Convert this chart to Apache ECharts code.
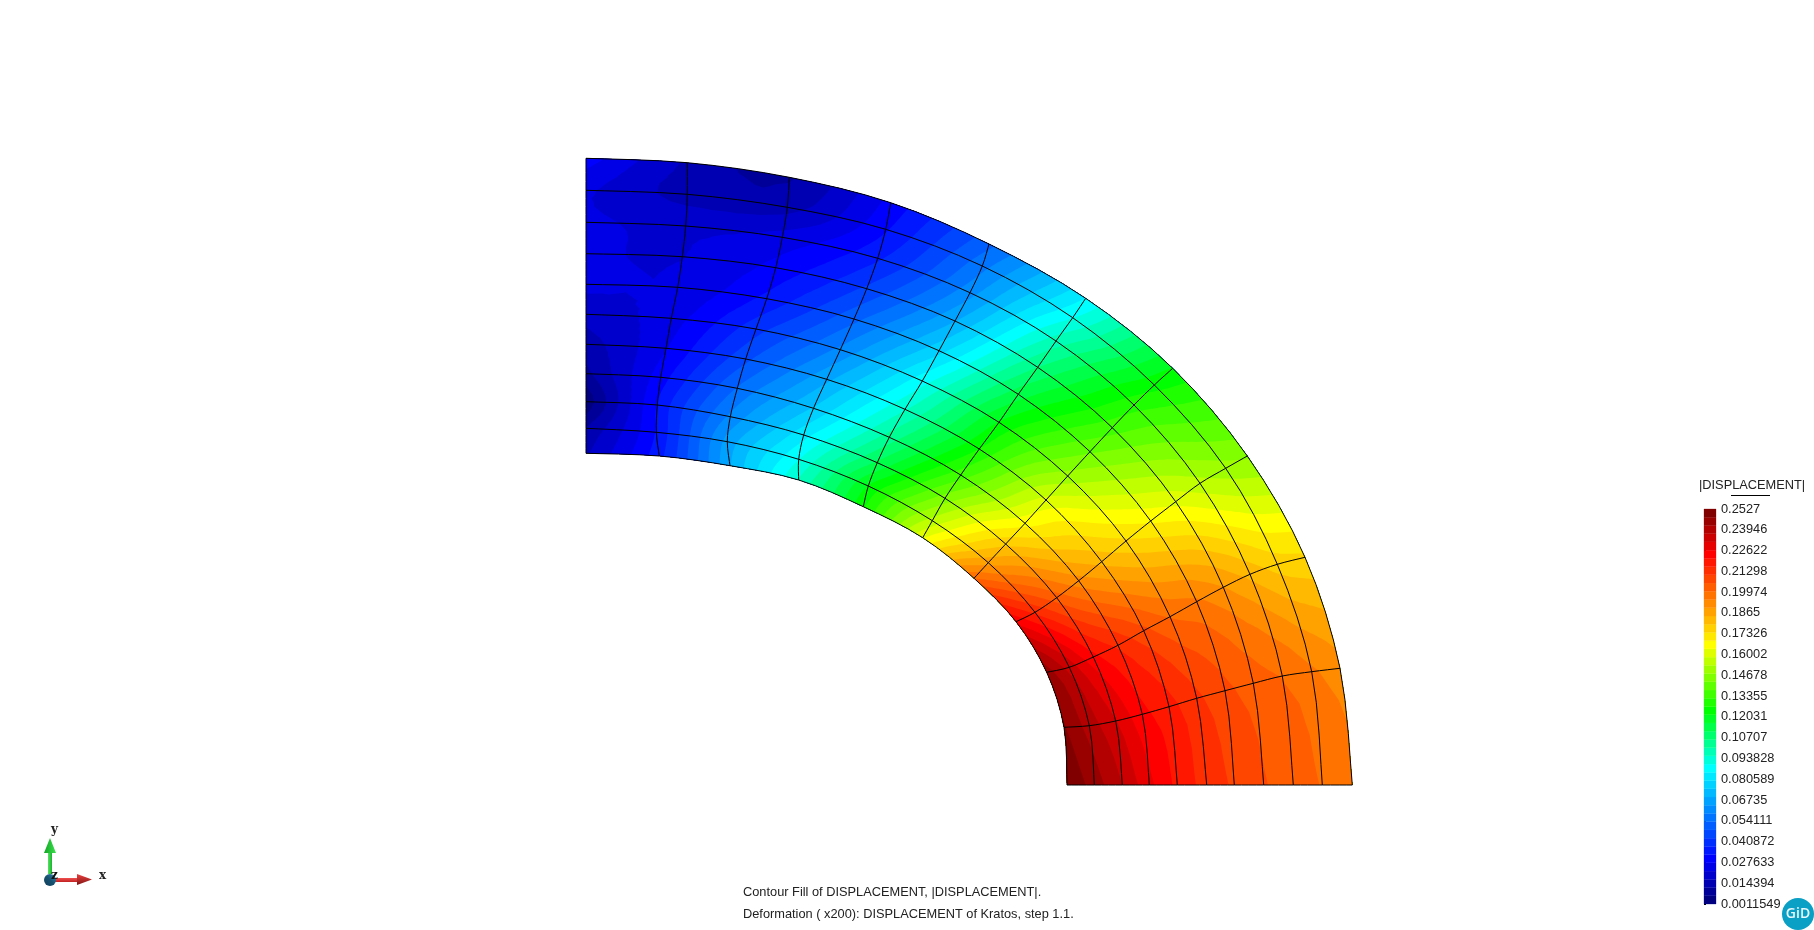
<!DOCTYPE html>
<html>
<head>
<meta charset="utf-8">
<title>Contour Fill of DISPLACEMENT</title>
<style>
    html, body { margin: 0; padding: 0; background: #fff; }
    #main { width: 1814px; height: 930px; }
</style>
<script src="https://cdn.jsdelivr.net/npm/echarts@6/dist/echarts.min.js"></script>
</head>
<body>
<div id="main"></div>
<script>
// mesh nodes, one row per spoke (top edge to bottom edge), each row outer ring to inner ring
var spokeX = [
    [586, 586, 586, 586, 586, 586, 586, 586, 586, 586, 586],
    [687.3, 687.3, 685.7, 682.3, 677.7, 671.3, 666, 660.7, 657.3, 656.3, 659.3],
    [789.3, 787.3, 782.3, 775.7, 766.7, 756, 745.7, 737.3, 730.3, 727.3, 730],
    [890.7, 885.7, 877.7, 866.7, 854, 840.3, 826.7, 813.5, 803.7, 798.7, 798.7],
    [989, 982.3, 970, 955, 939, 922.3, 905, 889.3, 877.3, 868.3, 863.3],
    [1085.7, 1072.7, 1056, 1037.7, 1018.3, 999, 979.3, 960.7, 945, 932.3, 922.7],
    [1172.7, 1154.3, 1134, 1112.3, 1090, 1067.7, 1046, 1025, 1005.7, 988.3, 974],
    [1247.3, 1225.7, 1200, 1175.7, 1150.7, 1126, 1101.7, 1078.7, 1056.7, 1035, 1016],
    [1305, 1277.3, 1250, 1223.3, 1196.7, 1170, 1143.7, 1118, 1093.3, 1069.3, 1046.7],
    [1340, 1311.7, 1282.3, 1253.3, 1225, 1196.7, 1169, 1142.3, 1115.7, 1089.3, 1064],
    [1352.3, 1322.3, 1293.3, 1263.7, 1234.3, 1206.7, 1177.3, 1149.3, 1122.3, 1094.3, 1067]
];
var spokeY = [
    [158.3, 190.3, 222.3, 253.7, 284.3, 314.3, 344.3, 373.7, 401.7, 428.3, 453.3],
    [162.7, 194.3, 226, 256.7, 287.3, 318.3, 348.3, 377.3, 405, 432.3, 456],
    [177.3, 207.3, 237.3, 267.7, 298.7, 329, 359, 388.3, 416.7, 441.7, 465.7],
    [202.7, 229.3, 258.3, 288.7, 319, 349.7, 379.3, 408.3, 435, 459.3, 480],
    [244, 266, 292.7, 321, 350.7, 381, 409.3, 437.3, 462.7, 486, 506.7],
    [298.3, 317.7, 341, 367.3, 394.3, 422.3, 449, 475, 498.3, 520.7, 537.7],
    [368.3, 385, 405, 427.7, 451.7, 476, 500, 523.3, 544, 562.7, 578.3],
    [456, 468.3, 483.3, 501.7, 521, 541, 561.7, 580.7, 597.7, 612.3, 621.7],
    [557.3, 564.3, 574.3, 587.3, 601.7, 616.7, 630.7, 645.3, 657, 667.3, 672.3],
    [668.3, 671.7, 676, 683.3, 690.7, 698.3, 706.7, 714.3, 721, 725.7, 727.3],
    [785, 785, 785, 785, 785, 785, 785, 785, 785, 785, 785]
];
// |DISPLACEMENT| at the nodes
var nodeValue = [
    [0.030, 0.023, 0.023, 0.023, 0.023, 0.019, 0.014, 0.010, 0.003, 0.012, 0.016],
    [0.016, 0.015, 0.021, 0.022, 0.023, 0.025, 0.027, 0.030, 0.033, 0.033, 0.036],
    [0.011, 0.015, 0.024, 0.029, 0.034, 0.041, 0.047, 0.054, 0.060, 0.066, 0.069],
    [0.029, 0.032, 0.037, 0.044, 0.052, 0.060, 0.068, 0.075, 0.083, 0.090, 0.096],
    [0.052, 0.057, 0.062, 0.069, 0.078, 0.088, 0.095, 0.103, 0.112, 0.122, 0.126],
    [0.085, 0.090, 0.098, 0.106, 0.114, 0.122, 0.127, 0.135, 0.145, 0.155, 0.163],
    [0.122, 0.125, 0.130, 0.135, 0.142, 0.150, 0.160, 0.167, 0.178, 0.188, 0.200],
    [0.147, 0.150, 0.155, 0.162, 0.168, 0.175, 0.183, 0.192, 0.203, 0.215, 0.225],
    [0.175, 0.177, 0.183, 0.190, 0.196, 0.200, 0.207, 0.215, 0.223, 0.235, 0.245],
    [0.192, 0.196, 0.200, 0.203, 0.207, 0.212, 0.218, 0.223, 0.232, 0.240, 0.248],
    [0.197, 0.200, 0.203, 0.206, 0.210, 0.214, 0.220, 0.228, 0.237, 0.245, 0.2527]
];
// legend ticks, top of the bar first
var tickValues = [0.2527, 0.23946, 0.22622, 0.21298, 0.19974, 0.1865, 0.17326, 0.16002, 0.14678, 0.13355,
    0.12031, 0.10707, 0.093828, 0.080589, 0.06735, 0.054111, 0.040872, 0.027633, 0.014394, 0.0011549];
// rainbow stops: band number and colour
var stopBands = [0, 5, 16, 23, 31, 42, 47];
var stopColors = [[0, 0, 128], [0, 0, 255], [0, 255, 255], [0, 255, 0], [255, 255, 0], [255, 0, 0], [128, 0, 0]];

var vMin = 0.0011549;
var vMax = 0.2527;
var SUB = 4; // drawn cells per mesh element
var BAND_COUNT = 48;

var bandColors = [];
var bandEdges = [];
for (var b = 0; b < BAND_COUNT; b++) {
    var k = 0;
    while (k < stopBands.length - 2 && b > stopBands[k + 1]) k++;
    var f = (b - stopBands[k]) / (stopBands[k + 1] - stopBands[k]);
    var c0 = stopColors[k], c1 = stopColors[k + 1];
    bandColors.push('rgb(' + Math.round(c0[0] + (c1[0] - c0[0]) * f) + ','
        + Math.round(c0[1] + (c1[1] - c0[1]) * f) + ','
        + Math.round(c0[2] + (c1[2] - c0[2]) * f) + ')');
}
for (var e = 0; e <= BAND_COUNT; e++) {
    bandEdges.push(vMin + (vMax - vMin) * e / BAND_COUNT);
}

// Catmull-Rom through one row of nodes
function refineRow(row) {
    var out = [];
    for (var i = 0; i < row.length - 1; i++) {
        var p0 = row[Math.max(i - 1, 0)], p1 = row[i], p2 = row[i + 1], p3 = row[Math.min(i + 2, row.length - 1)];
        for (var s = 0; s < SUB; s++) {
            var t = s / SUB;
            out.push(0.5 * (2 * p1 + (p2 - p0) * t + (2 * p0 - 5 * p1 + 4 * p2 - p3) * t * t
                + (3 * p1 - p0 - 3 * p2 + p3) * t * t * t));
        }
    }
    out.push(row[row.length - 1]);
    return out;
}

function refineGrid(grid) {
    var along = grid.map(refineRow);
    var result = along[0].map(function () { return []; });
    for (var j = 0; j < along[0].length; j++) {
        var cross = refineRow(along.map(function (r) { return r[j]; }));
        for (var i = 0; i < cross.length; i++) {
            result[i][j] = cross[i];
        }
    }
    return result; // result[spoke][ring]
}

var gridX = refineGrid(spokeX);
var gridY = refineGrid(spokeY);
var gridV = refineGrid(nodeValue);

// keep the part of a polygon [x, y, v] with v >= level
function clipAbove(poly, level) {
    var out = [];
    for (var i = 0; i < poly.length; i++) {
        var a = poly[i], c = poly[(i + 1) % poly.length];
        var da = a[2] - level, dc = c[2] - level;
        if (da >= 0) out.push(a);
        if ((da >= 0) !== (dc >= 0)) {
            var t = da / (da - dc);
            out.push([a[0] + (c[0] - a[0]) * t, a[1] + (c[1] - a[1]) * t, level]);
        }
    }
    return out;
}

// every band holds all of the mesh above its lower edge, painted lowest band first
var bandPolys = bandColors.map(function () { return []; });
function addTriangle(tri) {
    var hi = Math.max(tri[0][2], tri[1][2], tri[2][2]);
    for (var b = 0; b < BAND_COUNT; b++) {
        if (bandEdges[b] > hi) break;
        var p = b > 0 ? clipAbove(tri, bandEdges[b]) : tri;
        if (p.length > 2) bandPolys[b].push(p);
    }
}
function node(s, r) {
    return [gridX[s][r], gridY[s][r], gridV[s][r]];
}
for (var s = 0; s < gridX.length - 1; s++) {
    for (var r = 0; r < gridX[0].length - 1; r++) {
        addTriangle([node(s, r), node(s + 1, r), node(s + 1, r + 1)]);
        addTriangle([node(s, r), node(s + 1, r + 1), node(s, r + 1)]);
    }
}

// mesh lines
var meshSeries = [];
function meshLine(data) {
    meshSeries.push({
        type: 'line',
        xAxisIndex: 0,
        yAxisIndex: 0,
        data: data,
        symbol: 'none',
        silent: true,
        z: 5,
        lineStyle: { color: '#000', width: 1 }
    });
}
spokeX[0].forEach(function (unused, ring) {
    meshLine(gridX.map(function (row, n) { return [row[ring * SUB], gridY[n][ring * SUB]]; }));
});
spokeX.forEach(function (unused, spoke) {
    meshLine(gridX[spoke * SUB].map(function (x, n) { return [x, gridY[spoke * SUB][n]]; }));
});

function vertical(from, to) {
    return { type: 'linear', x: 0, y: 0, x2: 0, y2: 1, colorStops: [{ offset: 0, color: from }, { offset: 1, color: to }] };
}
function horizontal(from, to) {
    return { type: 'linear', x: 0, y: 0, x2: 1, y2: 0, colorStops: [{ offset: 0, color: from }, { offset: 1, color: to }] };
}

var myChart = echarts.init(document.getElementById('main'), null, { renderer: 'canvas' });

myChart.setOption({
    animation: false,
    backgroundColor: '#fff',
    grid: [
        { left: 0, top: 0, width: 1814, height: 930 },
        { left: 1704, top: 509, width: 12, height: 395 }
    ],
    xAxis: [
        { type: 'value', gridIndex: 0, min: 0, max: 1814, show: false },
        { type: 'value', gridIndex: 1, min: 0, max: 1, show: false }
    ],
    yAxis: [
        { type: 'value', gridIndex: 0, min: 0, max: 930, inverse: true, show: false },
        {
            type: 'value',
            gridIndex: 1,
            position: 'right',
            min: vMin,
            max: vMax,
            splitLine: { show: false },
            axisLine: { show: false },
            axisTick: { show: true, length: 2, customValues: tickValues, lineStyle: { color: '#000' } },
            axisLabel: {
                show: true,
                customValues: tickValues,
                margin: 5,
                color: '#222',
                fontFamily: 'Liberation Sans',
                fontSize: 12.8,
                formatter: function (v) { return String(v); }
            }
        }
    ],
    series: [
        {
            // contour fill, one compound path per band
            type: 'custom',
            xAxisIndex: 0,
            yAxisIndex: 0,
            silent: true,
            z: 2,
            clip: false,
            data: bandColors.map(function (c, n) { return [n]; }),
            renderItem: function (params, api) {
                var n = api.value(0);
                var d = bandPolys[n].map(function (poly) {
                    return poly.map(function (q, i) {
                        var pt = api.coord([q[0], q[1]]);
                        return (i ? 'L' : 'M') + pt[0].toFixed(2) + ' ' + pt[1].toFixed(2);
                    }).join('') + 'Z';
                }).join('');
                return {
                    type: 'path',
                    shape: { pathData: d },
                    style: { fill: bandColors[n] }
                };
            }
        },
        {
            // legend colour bar
            type: 'custom',
            xAxisIndex: 1,
            yAxisIndex: 1,
            silent: true,
            data: bandColors.map(function (c, n) { return [n]; }),
            renderItem: function (params, api) {
                var n = api.value(0);
                var p0 = api.coord([0, bandEdges[n + 1]]);
                var p1 = api.coord([1, bandEdges[n]]);
                return {
                    type: 'rect',
                    shape: { x: p0[0], y: p0[1], width: p1[0] - p0[0], height: p1[1] - p0[1] },
                    style: { fill: bandColors[n], stroke: bandColors[n], lineWidth: 0.3 }
                };
            }
        }
    ].concat(meshSeries),
    graphic: [
        { type: 'text', left: 1699, top: 479, style: { text: '|DISPLACEMENT|', fill: '#222', font: '12.8px "Liberation Sans"' } },
        { type: 'rect', shape: { x: 1731, y: 495, width: 39, height: 1 }, style: { fill: '#000' } },
        { type: 'text', left: 743, top: 886, style: { text: 'Contour Fill of DISPLACEMENT, |DISPLACEMENT|.', fill: '#222', font: '12.8px "Liberation Sans"' } },
        { type: 'text', left: 743, top: 908, style: { text: 'Deformation ( x200): DISPLACEMENT of Kratos, step 1.1.', fill: '#222', font: '12.8px "Liberation Sans"' } },
        // GiD badge
        { type: 'circle', shape: { cx: 1798, cy: 914, r: 16 }, style: { fill: '#0a9fc4' } },
        { type: 'text', x: 1798, y: 914, style: { text: 'GiD', fill: '#e8f7fb', font: '600 14px "Open Sans"', align: 'center', verticalAlign: 'middle' } },
        // axes triad
        { type: 'rect', shape: { x: 48, y: 852, width: 4, height: 22 }, style: { fill: horizontal('#55e065', '#18b52a') } },
        { type: 'polygon', shape: { points: [[50, 838], [56, 853], [44, 853]] }, style: { fill: horizontal('#12a524', '#3ce04e') } },
        { type: 'rect', shape: { x: 55, y: 878, width: 23, height: 4 }, style: { fill: vertical('#f05050', '#c02020') } },
        { type: 'polygon', shape: { points: [[92, 879.5], [77, 874], [77, 885]] }, style: { fill: vertical('#ee4040', '#801515') } },
        { type: 'circle', shape: { cx: 50, cy: 880, r: 6 }, style: { fill: { type: 'linear', x: 1, y: 0, x2: 0, y2: 1, colorStops: [{ offset: 0, color: '#2f86b8' }, { offset: 0.5, color: '#15506e' }, { offset: 1, color: '#123f5c' }] } } },
        { type: 'text', left: 51, top: 824, style: { text: 'y', fill: '#222', font: 'bold 12px "DejaVu Serif"' } },
        { type: 'text', left: 51, top: 870, style: { text: 'z', fill: '#111', font: 'bold 12px "DejaVu Serif"' } },
        { type: 'text', left: 99, top: 870, style: { text: 'x', fill: '#222', font: 'bold 12px "DejaVu Serif"' } }
    ]
});
</script>
</body>
</html>
